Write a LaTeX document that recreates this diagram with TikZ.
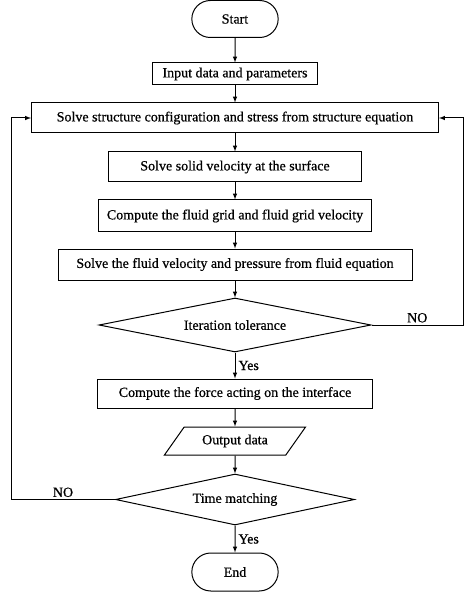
\documentclass[tikz,border=0pt]{standalone}
\usepackage{fontspec}
\setmainfont{Liberation Serif}
\newfontfamily\flowfont{Liberation Serif}[FakeBold=0.6]
\usetikzlibrary{shapes.geometric,shapes.misc}

\tikzset{
    procbox/.style={draw, rectangle, minimum height=30pt, inner sep=2pt},
    termbox/.style={draw, rounded rectangle, minimum width=93pt, minimum height=37pt},
    decbox/.style={draw, diamond, aspect=5, inner sep=0pt},
    iobox/.style={draw, trapezium, trapezium left angle=54, trapezium right angle=126,
        trapezium stretches=true, minimum width=142pt, minimum height=28pt},
    flow/.style={->, >=latex},
}

\begin{document}
\begin{tikzpicture}[x=1pt, y=1pt, line width=1pt, font=\flowfont\fontsize{14}{16}\selectfont]
                \useasboundingbox (0,0) rectangle (474,-601);

                \node[termbox] (start) at (235,-19) {Start};
                \node[procbox, minimum width=165pt, minimum height=22pt, below of=start, node distance=55pt] (input) {Input data and parameters};
                \node[procbox, minimum width=407pt, below of=input, node distance=44pt] (struct) {Solve structure configuration and stress from structure equation};
                \node[procbox, minimum width=253pt, below of=struct, node distance=49pt] (solid) {Solve solid velocity at the surface};
                \node[procbox, minimum width=273pt, minimum height=32pt, below of=solid, node distance=49pt] (grid) {Compute the fluid grid and fluid grid velocity};
                \node[procbox, minimum width=354pt, minimum height=31pt, below of=grid, node distance=48.5pt] (fluid) {Solve the fluid velocity and pressure from fluid equation};
                \node[decbox, minimum width=272pt, minimum height=54pt, below of=fluid, node distance=60.5pt] (iter) {Iteration tolerance};
                \node[procbox, minimum width=275pt, minimum height=29pt, below of=iter, node distance=68.5pt] (force) {Compute the force acting on the interface};
                \node[iobox, below of=force, node distance=47.5pt] (output) {Output data};
                \node[decbox, minimum width=239pt, minimum height=51pt, below of=output, node distance=58.5pt] (time) {Time matching};
                \node[termbox, minimum height=38pt, below of=time, node distance=72.5pt] (end) {End};

                \coordinate (rloop) at (463,-325);
                \coordinate (lloop) at (11,-499.5);

                \draw[flow] (start) -- (input);
                \draw[flow] (input) -- (struct);
                \draw[flow] (struct) -- (solid);
                \draw[flow] (solid) -- (grid);
                \draw[flow] (grid) -- (fluid);
                \draw[flow] (fluid) -- (iter);
                \draw[flow] (iter) -- node[right, inner sep=3pt] {Yes} (force);
                \draw[flow] (force) -- (output);
                \draw[flow] (output) -- (time);
                \draw[flow] (time) -- node[right, inner sep=3pt] {Yes} (end);
                \draw[flow] (iter.east) -- node[above, inner sep=2pt] {NO} (rloop) |- (struct.east);
                \draw[flow] (time.west) -- node[above, inner sep=2pt] {NO} (lloop) |- (struct.west);
            \end{tikzpicture}
\end{document}
